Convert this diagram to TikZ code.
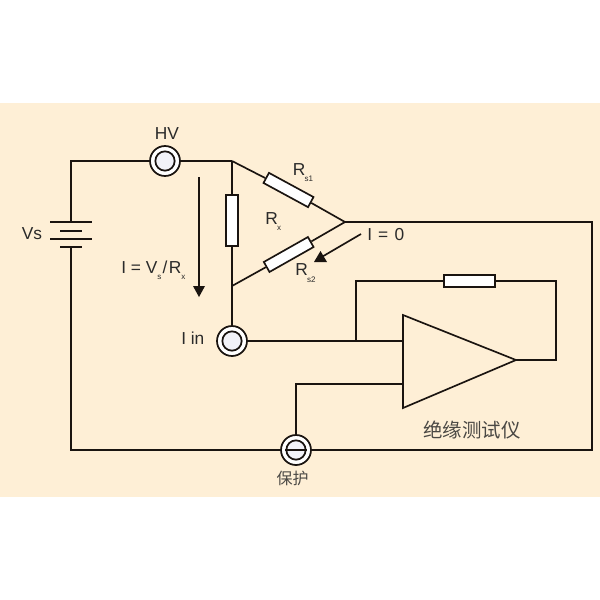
\documentclass[tikz,border=0pt]{standalone}
\usepackage{fontspec}
\setmainfont{Liberation Sans}
\newfontfamily\cjk{Noto Sans CJK SC}
\definecolor{bgc}{HTML}{FEEFD6}
\definecolor{wirec}{HTML}{1A1410}
\definecolor{txtc}{HTML}{2A2A2A}
\definecolor{jackc}{HTML}{F2F2F8}
\newcommand{\sbs}[1]{\raisebox{-0.36em}{\fontsize{6pt}{6pt}\selectfont #1}}
\tikzset{
  wire/.style={draw=wirec,line width=1.6pt},
  thinwire/.style={draw=wirec,line width=1.25pt},
  lab/.style={text=txtc,font=\fontsize{13pt}{15pt}\selectfont,inner sep=0pt},
  cjklab/.style={text=txtc!85!bgc,inner sep=0pt},
  jack/.style={circle,draw=wirec,line width=1.3pt,fill=white,minimum size=22.5pt,inner sep=0pt},
  jackin/.style={circle,draw=wirec,line width=1.3pt,fill=jackc,minimum size=14.5pt,inner sep=0pt},
  res/.style={draw=wirec,line width=1.25pt,fill=white,minimum width=38pt,minimum height=8.6pt,inner sep=0pt,rectangle},
  head/.style={fill=wirec,draw=none},
}
\begin{document}
\begin{tikzpicture}[x=0.75pt,y=-0.75pt]
\useasboundingbox (0,0) rectangle (600,600);
\fill[white] (0,0) rectangle (600,600);
\fill[bgc] (0,103) rectangle (600,497);
% corners and joints
\coordinate (tl) at (71,161);
\coordinate (bl) at (71,450);
\coordinate (br) at (592,450);
\coordinate (tr) at (592,222);
\coordinate (top) at (232,161);
\coordinate (tip) at (345,222);
\coordinate (low) at (232,286);
\coordinate (fbj) at (356,341);
\coordinate (fbl) at (356,281);
\coordinate (fbr) at (556,281);
\coordinate (outc) at (556,360);
\coordinate (opin) at (404,341);
\coordinate (gin) at (403,384);
\coordinate (gk) at (296,384);
\coordinate (opout) at (516,360);
\coordinate (bt) at (71,222);
\coordinate (bb) at (71,247);
% nodes
\node[jack] (hv) at (165,161) {};
\node[jackin] (hvi) at (165,161) {};
\node[jack] (iin) at (232,341) {};
\node[jackin] (iini) at (232,341) {};
\node[jack] (grd) at (296,450) {};
\node[jackin] (grdi) at (296,450) {};
\node[res,rotate=90] (rx) at (232,220.5) {};
\node[res,rotate=-28.5] (rs1) at (288.5,190) {};
\node[res,rotate=29.5] (rs2) at (288.7,254.5) {};
\node[res] (rf) at (469.5,281) {};
% wires
\draw[wire] (hv) -- (tl) -- (bt);
\draw[wire] (bb) -- (bl) -- (grd);
\draw[wire] (grd) -- (br) -- (tr) -- (tip);
\draw[wire] (hv) -- (top);
\draw[wire] (top) -- (rx);
\draw[wire] (rx) -- (iin);
\draw[thinwire] (top) -- (rs1);
\draw[thinwire] (rs1) -- (tip);
\draw[thinwire] (tip) -- (rs2);
\draw[thinwire] (rs2) -- (low);
\draw[wire] (iin) -- (opin);
\draw[thinwire] (fbj) -- (fbl) -- (rf);
\draw[thinwire] (rf) -- (fbr) -- (outc) -- (opout);
\draw[thinwire] (gin) -- (gk) -- (grd);
\draw[thinwire,fill=bgc] (403,315) -- (opout) -- (403,408) -- cycle;
\draw[thinwire] (grdi.west) -- (grdi.east);
% battery
\draw[wire] (50,222) -- (92,222);
\draw[wire] (60,231) -- (82,231);
\draw[wire] (50,239) -- (92,239);
\draw[wire] (60,247) -- (82,247);
% current arrows
\coordinate (a1s) at (199,177);
\coordinate (a1e) at (199,287);
\draw[wire] (a1s) -- (a1e);
\fill[head] (193,286) -- (205,286) -- (199,297) -- cycle;
\coordinate (a2s) at (361,234);
\coordinate (a2e) at (320,258);
\draw[thinwire] (a2s) -- (a2e);
\fill[head] (314,262) -- (327,262) -- (320.5,251) -- cycle;
% labels
\node[lab] (lhv) at (167,134) {HV};
\node[lab] (lvs) at (32,233.5) {Vs};
\node[lab,anchor=west] (lrs1) at (292.5,172.5) {R\kern-0.5pt\sbs{s1}};
\node[lab,anchor=west] (lrs2) at (295,273) {R\kern-0.5pt\sbs{s2}};
\node[lab,anchor=west] (lrx) at (265,221.5) {R\kern-0.5pt\sbs{x}};
\node[lab,anchor=west] (leq) at (121,270.5) {I = V\sbs{s}\kern1pt/\kern1pt R\sbs{x}};
\node[lab,anchor=west] (li0) at (367,234.5) {I\hspace{1pt} = \hspace{1pt}0};
\node[lab,anchor=west] (lin) at (181,338) {I in};
\node[cjklab,font=\cjk\fontsize{14.6pt}{16pt}\selectfont] (lt) at (472,430) {绝缘测试仪};
\node[cjklab,font=\cjk\fontsize{12pt}{14pt}\selectfont] (lg) at (292.5,478) {保护};
\end{tikzpicture}
\end{document}
